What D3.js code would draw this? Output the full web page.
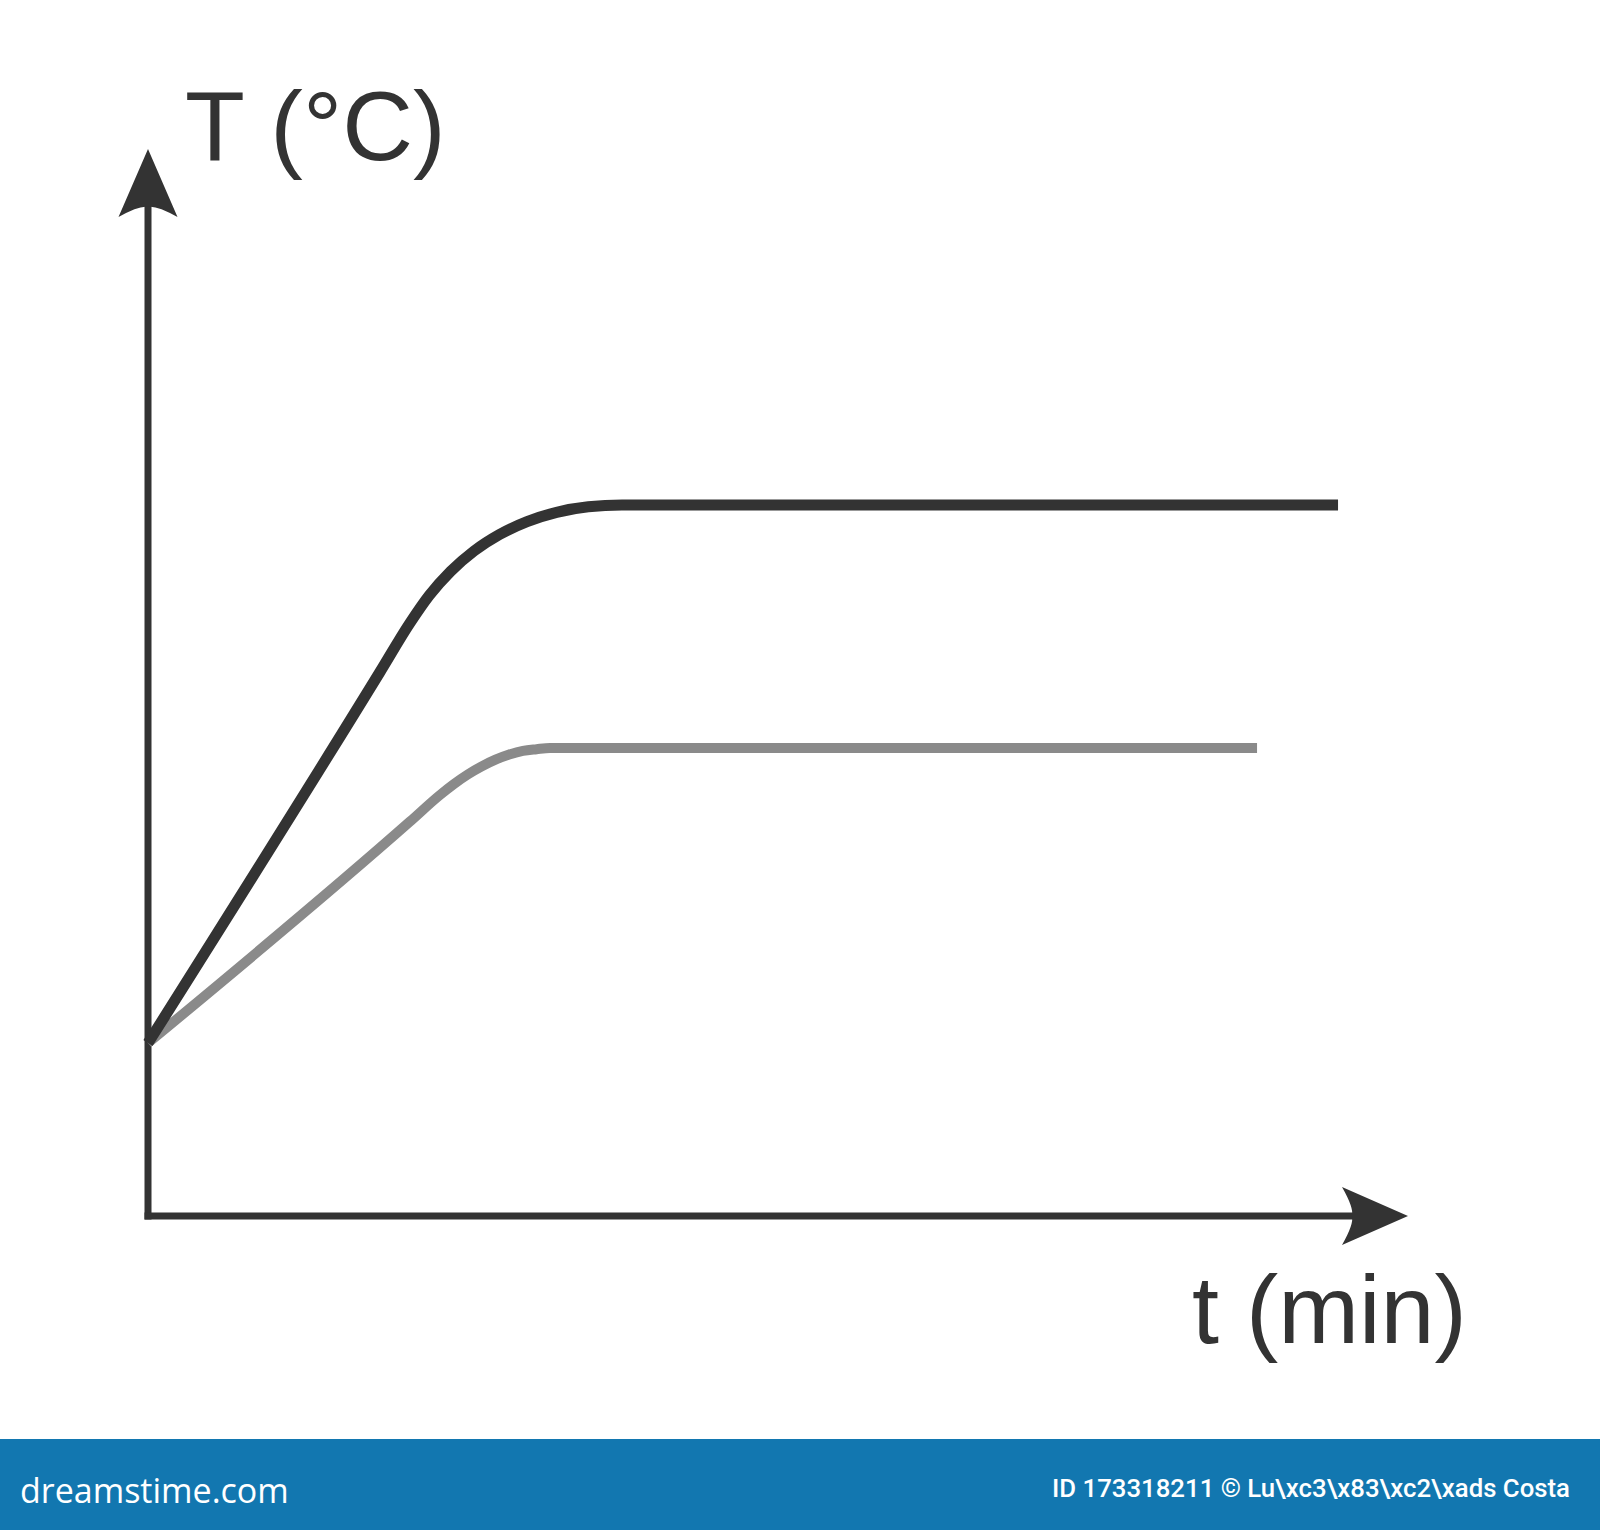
<!DOCTYPE html>
<html>
<head>
<meta charset="utf-8">
<script src="https://cdn.jsdelivr.net/npm/d3@7"></script>
<style>
  html, body { margin: 0; padding: 0; background: #ffffff; }
  svg { display: block; }
</style>
</head>
<body>
<script>
// ---- data (arbitrary units, no ticks shown) ----
const yLabel = "T (°C)";
const xLabel = "t (min)";
const upperCurveT    = [0,    19.33, 21.83, 23.44, 25.22, 27.17, 29.29, 31.59, 34.05, 36.69, 39.5, 99.17];
const upperCurveTemp = [17.3, 54.4,  59.3,  62.06, 64.46, 66.5,  68.15, 69.44, 70.37, 70.92, 71.1, 71.1];
const lowerCurveT    = [0,    21.83, 24.33, 25.5, 26.66, 27.81, 28.96, 30.1,  31.24, 32.38, 33.5, 92.42];
const lowerCurveTemp = [17.3, 39.44, 42.1,  43.2, 44.16, 44.96, 45.63, 46.14, 46.51, 46.68, 46.8, 46.8];
const creditLeft = "dreamstime.com";
const creditRight = "ID 173318211 © Lu\\xc3\\x83\\xc2\\xads Costa";

// ---- drawing ----
const W = 1600, H = 1530;
const svg = d3.select("body").append("svg").attr("width", W).attr("height", H);
svg.append("rect").attr("width", W).attr("height", H).attr("fill", "#ffffff");

const x = d3.scaleLinear().domain([0, 100]).range([148, 1348]);
const y = d3.scaleLinear().domain([0, 100]).range([1216, 216]);

const axisColor = "#333333";

// axes lines
svg.append("line")
  .attr("x1", x(0)).attr("x2", x(0))
  .attr("y1", y(0) + 3.5).attr("y2", 200)
  .attr("stroke", axisColor).attr("stroke-width", 7);
svg.append("line")
  .attr("x1", x(0) - 3.5).attr("x2", 1360)
  .attr("y1", y(0)).attr("y2", y(0))
  .attr("stroke", axisColor).attr("stroke-width", 7);

// arrowheads
const ax = x(0), ayTip = 149;
svg.append("path")
  .attr("d", `M${ax},${ayTip} L${ax + 29.5},${ayTip + 68} Q${ax + 8},${ayTip + 56} ${ax},${ayTip + 58} Q${ax - 8},${ayTip + 56} ${ax - 29.5},${ayTip + 68} Z`)
  .attr("fill", axisColor);
const bx = 1408, by = y(0);
svg.append("path")
  .attr("d", `M${bx},${by} L${bx - 66},${by - 29} Q${bx - 54},${by - 8} ${bx - 56},${by} Q${bx - 54},${by + 8} ${bx - 66},${by + 29} Z`)
  .attr("fill", axisColor);

// curves
const line = d3.line().x(d => x(d[0])).y(d => y(d[1])).curve(d3.curveMonotoneX);
const lower = d3.zip(lowerCurveT, lowerCurveTemp);
const upper = d3.zip(upperCurveT, upperCurveTemp);
svg.append("path").attr("d", line(lower))
  .attr("fill", "none").attr("stroke", "#8a8a8a").attr("stroke-width", 10);
svg.append("path").attr("d", line(upper))
  .attr("fill", "none").attr("stroke", "#333333").attr("stroke-width", 11);

// axis labels
svg.append("text")
  .attr("x", 185).attr("y", 160)
  .attr("font-family", "Liberation Sans, Arial, sans-serif")
  .attr("font-size", 98).attr("fill", "#333333")
  .text(yLabel);
svg.append("text")
  .attr("x", 1192).attr("y", 1343)
  .attr("font-family", "Liberation Sans, Arial, sans-serif")
  .attr("font-size", 97).attr("fill", "#333333")
  .text(xLabel);

// bottom banner
svg.append("rect").attr("x", 0).attr("y", 1439).attr("width", W).attr("height", H - 1439)
  .attr("fill", "#1277b0");
svg.append("text")
  .attr("x", 20).attr("y", 1503)
  .attr("font-family", "Open Sans, sans-serif")
  .attr("font-size", 34).attr("fill", "#ffffff")
  .text(creditLeft);
svg.append("text")
  .attr("x", 1052).attr("y", 1497)
  .attr("font-family", "Roboto, sans-serif")
  .attr("font-weight", 500)
  .attr("font-size", 26.5).attr("fill", "#ffffff")
  .attr("textLength", 518).attr("lengthAdjust", "spacingAndGlyphs")
  .text(creditRight);
</script>
</body>
</html>
